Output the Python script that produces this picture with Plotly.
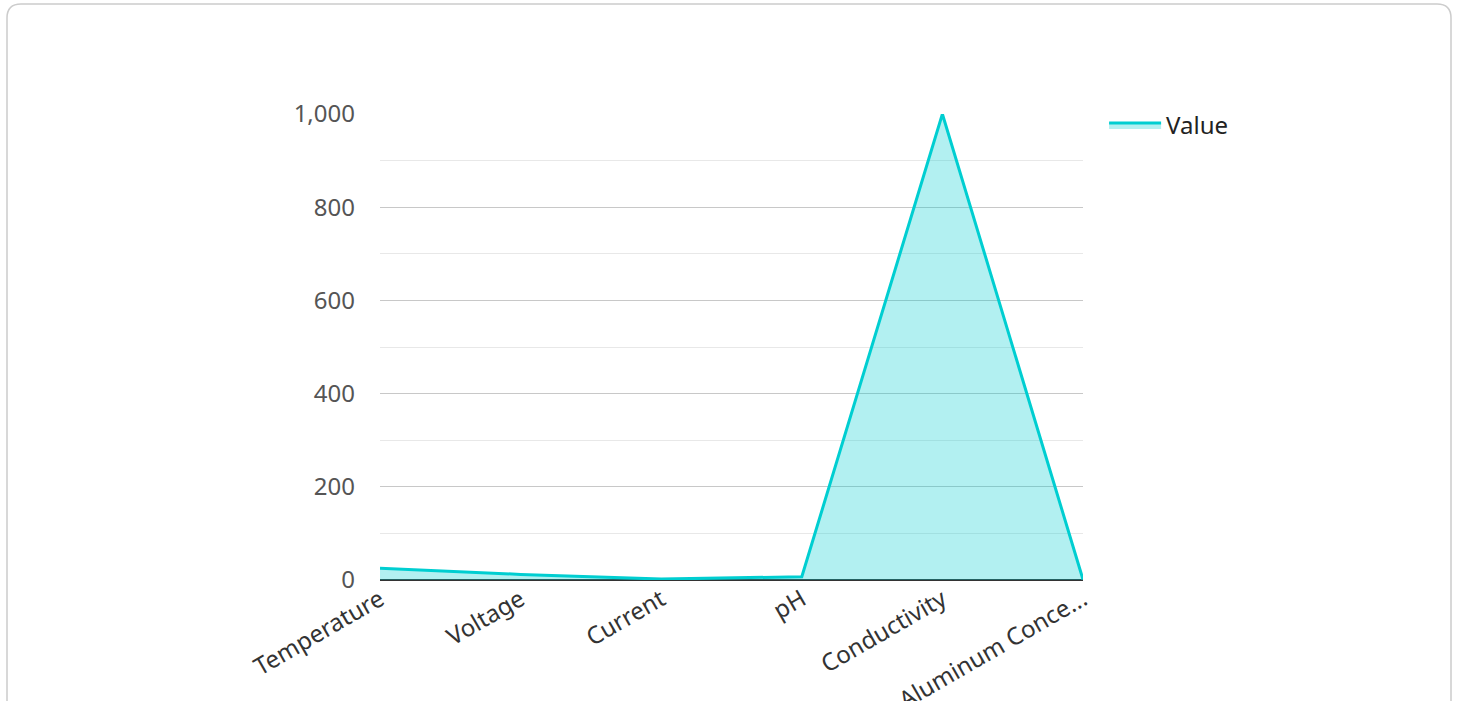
import plotly.graph_objects as go

categories = ["Temperature", "Voltage", "Current", "pH", "Conductivity", "Aluminum Conce..."]
values = [25, 12, 2, 7, 1000, 1]

W, H = 1458, 701
L, R, T, B = 380, 375, 114, 121
pw, ph = W - L - R, H - T - B

fig = go.Figure()
fig.add_trace(go.Scatter(
    x=categories, y=values, mode="lines", name="Value",
    line=dict(color="#00CED1", width=3),
    fill="tozeroy", fillcolor="rgba(0,206,209,0.3)",
    showlegend=True,
))

def px2x(p):
    return (p - L) / pw

def px2y(p):
    return (H - B - p) / ph

x0, x1, y0, y1 = 7, 1451, 4, 730
r = 14
path = (f"M {px2x(x0)},{px2y(y1)} L {px2x(x0)},{px2y(y0 + r)} "
        f"Q {px2x(x0)},{px2y(y0)} {px2x(x0 + r)},{px2y(y0)} "
        f"L {px2x(x1 - r)},{px2y(y0)} "
        f"Q {px2x(x1)},{px2y(y0)} {px2x(x1)},{px2y(y0 + r)} "
        f"L {px2x(x1)},{px2y(y1)}")
fig.add_shape(type="path", path=path, xref="paper", yref="paper",
              line=dict(color="#cccccc", width=1.5), layer="below")

fig.update_layout(
    width=W, height=H,
    margin=dict(l=L, r=R, t=T, b=B, pad=0),
    paper_bgcolor="white", plot_bgcolor="white",
    font=dict(family="Noto Sans", size=24, color="#555555"),
    legend=dict(x=0.03 + 1.0, y=1.0236, xanchor="left", yanchor="top", itemwidth=52,
                font=dict(size=24, color="#222222"), bgcolor="rgba(0,0,0,0)"),
    xaxis=dict(
        showgrid=False, tickangle=-30, range=[0, 5], showline=False,
        zeroline=False, ticks="", automargin=False,
        tickfont=dict(size=24, color="#333333"),
    ),
    yaxis=dict(
        range=[0, 1000], dtick=200, tickformat=",d", showgrid=True,
        gridcolor="#c8c8c8", gridwidth=1,
        minor=dict(dtick=100, showgrid=True, gridcolor="#e8e8e8", gridwidth=1),
        zeroline=True, zerolinecolor="#333333", zerolinewidth=2,
        showline=False, ticks="", ticklabelstandoff=24, automargin=False,
        tickfont=dict(size=24, color="#555555"),
    ),
)

fig.write_html("out.html")
